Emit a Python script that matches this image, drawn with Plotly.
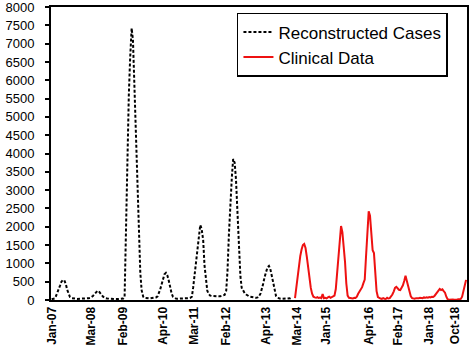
import pandas as pd
import plotly.graph_objects as go

# Reconstructed cases: semi-monthly values starting Jan 2007
recon_start = "2007-01-01"
recon_values = [
    20, 20, 40, 100, 180, 280, 400, 500, 545, 540, 430, 280, 150, 80, 50, 40,
    35, 35, 30, 30, 30, 30, 35, 35, 40, 45,
    50, 60, 80, 110, 160, 210, 245, 245, 200, 140, 90, 60, 45, 40,
    35, 30, 30, 25, 25, 25, 25, 30, 30, 40,
    40, 80, 1800, 4000, 5600, 6600, 7420, 7100, 5700, 4200, 2800, 1500, 750, 270, 90, 60,
    50, 45, 45, 45, 50, 50, 55, 70,
    100, 180, 290, 420, 580, 700, 740, 680, 520, 330, 170, 90, 55,
    40, 35, 35, 30, 30, 30, 35, 35, 45,
    50, 60, 90, 350, 650, 920, 1300, 1730, 2050, 1950, 1640, 950, 500, 250, 160, 120,
    110, 105, 105, 100, 100, 100, 105, 110, 120,
    140, 250, 800, 1800, 2700, 3350, 3850, 3750, 3300, 2370, 1350, 650, 330, 230, 190, 150, 120, 100, 90, 80,
    70, 60, 60, 70, 100,
    180, 300, 450, 620, 770, 890, 930, 850, 650, 450, 230, 110, 60, 40,
    35, 30, 30, 30, 35, 35, 40, 50, 80,
]

# Clinical data: values every 14 days starting Feb 2014
clinical_start = "2014-02-02"
clinical_values = [
    50, 350, 650, 900, 1200, 1380, 1500, 1530, 1420, 1180, 850, 560, 330, 170, 90,
    70, 60, 80, 55, 65, 50, 160, 50, 60, 45, 70, 90,
    60, 80, 90, 120, 300, 800, 1180, 1600, 2020, 1850, 1500, 1050, 450, 120, 60,
    45, 50, 40, 60, 55, 90, 170, 220, 280, 350, 460, 560, 1200, 1950, 2420,
    2300, 1850, 1360, 1280, 640, 240, 80, 50,
    40, 30, 50, 35, 30, 60, 40, 50,
    90, 150, 230, 330, 360, 300, 280, 270, 330, 400, 520, 660, 520, 360, 200, 100, 50,
    40, 35, 50, 40, 45, 60, 55, 50, 70, 60, 75, 65, 80, 70, 90, 85, 110,
    160, 230, 280, 300, 270, 290, 240, 200, 90, 20,
    10, 5, 10, 15, 10, 5, 10, 20, 15, 30,
    90, 220, 420, 550,
]

tick_dates = ["2007-01-01", "2008-03-01", "2009-02-01", "2010-04-01", "2011-03-01",
              "2012-02-01", "2013-04-01", "2014-03-01", "2015-01-01", "2016-04-01",
              "2017-02-01", "2018-01-01", "2018-10-01"]
tick_labels = ["Jan-07", "Mar-08", "Feb-09", "Apr-10", "Mar-11", "Feb-12", "Apr-13",
               "Mar-14", "Jan-15", "Apr-16", "Feb-17", "Jan-18", "Oct-18"]

y_ticks = list(range(0, 8001, 500))

recon_dates = pd.date_range(recon_start, periods=len(recon_values), freq="SMS")
clinical_dates = pd.date_range(clinical_start, periods=len(clinical_values), freq="14D")

FONT = "Liberation Sans, Arial, Helvetica, sans-serif"

fig = go.Figure()
fig.add_trace(go.Scatter(
    x=recon_dates, y=recon_values, mode="lines", name="Reconstructed Cases",
    line=dict(color="black", width=2, dash="3px,2px"),
))
fig.add_trace(go.Scatter(
    x=clinical_dates, y=clinical_values, mode="lines", name="Clinical Data",
    line=dict(color="#ee1111", width=2),
))

fig.update_layout(
    width=474, height=355,
    margin=dict(l=51, r=7, t=7, b=55, autoexpand=False),
    paper_bgcolor="white", plot_bgcolor="white",
    font=dict(family=FONT, color="black"),
    showlegend=True,
    legend=dict(
        x=0.447, y=0.98, xanchor="left", yanchor="top",
        bordercolor="black", borderwidth=1.5, bgcolor="white",
        font=dict(family=FONT, size=17, color="black"),
        tracegroupgap=0, itemwidth=30,
    ),
)
fig.update_xaxes(
    type="date", range=["2006-12-25", "2019-02-06"], automargin=False,
    tickmode="array", tickvals=tick_dates, ticktext=tick_labels,
    tickangle=-90, tickfont=dict(family=FONT, size=12, color="black", weight="bold"),
    showline=True, linecolor="black", linewidth=2, mirror=True,
    ticks="", showgrid=False, zeroline=False, ticklabeloverflow="allow",
)
fig.update_yaxes(
    range=[0, 8000], tickmode="array", tickvals=y_ticks, automargin=False,
    tickfont=dict(family=FONT, size=13, color="black"),
    ticks="outside", ticklen=4, tickwidth=1.5, tickcolor="black",
    showline=True, linecolor="black", linewidth=2, mirror=True,
    showgrid=False, zeroline=False, ticklabelstandoff=8, ticklabeloverflow="allow",
)

fig.write_html(
    "out.html",
    config={"displayModeBar": False},
    post_script="document.body.style.margin='0px';document.body.style.overflow='hidden';",
)
